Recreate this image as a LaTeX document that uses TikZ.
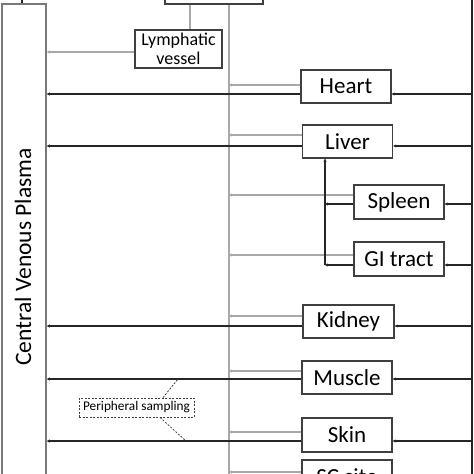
\documentclass[tikz,border=0pt]{standalone}
\usepackage{fontspec}
\setmainfont{Carlito}
\usetikzlibrary{arrows.meta,calc}
\definecolor{bord}{HTML}{3F3F3F}
\definecolor{lgray}{HTML}{A8A8A8}
\begin{document}
\begin{tikzpicture}[x=1pt,y=-1pt,
  organ/.style={draw=bord,line width=1.3pt,fill=white,minimum width=90pt,minimum height=33pt,inner sep=0pt,font=\fontsize{23}{26}\selectfont},
  blk/.style={draw=black!85,line width=1.2pt,-{Stealth[length=3pt,width=3pt]}},
  gry/.style={draw=lgray,line width=1.1pt,-{Stealth[length=3pt,width=3pt]}},
  gryl/.style={draw=lgray,line width=1.1pt},
  dsh/.style={draw=black!75,line width=0.8pt,dash pattern=on 2pt off 1.5pt}]
\useasboundingbox (0,0) rectangle (474,474);
\clip (0,0) rectangle (474,474);
% reference coordinates
\coordinate (gv) at (229,0);
\coordinate (rt) at (472,-5);
\coordinate (rb) at (472,480);
\coordinate (jb) at (325,265);
% boxes
\node[draw=bord,line width=1.3pt,minimum width=98pt,minimum height=34pt,inner sep=0pt] (topbox) at (214,-13) {};
\node[draw=bord!70,line width=1.5pt,minimum width=44pt,minimum height=496pt,inner sep=0pt] (cvp) at (24,252) {};
\node[rotate=90,font=\fontsize{23.5}{26}\selectfont] (cvpt) at (23,257) {Central Venous Plasma};
% gray verticals
\draw[gryl] (topbox.south -| gv) -- (gv |- 0,480);
\node[draw=bord,line width=1.3pt,fill=white,minimum width=87pt,minimum height=38pt,inner sep=0pt,align=center,font=\fontsize{18}{19}\selectfont] (lymph) at (178.5,49) {Lymphatic\\vessel};
\draw[gryl] (topbox.south -| 190,0) -- (lymph.north -| 190,0);
\draw[gry] (lymph.west |- 0,52) -- (cvp.east |- 0,52);
% right line
\draw[draw=black!85,line width=1.5pt] (rt) -- (rb);
\draw[draw=black!85,line width=1.2pt] (cvp.north -| 22,0) -- (22,-5);
% organs
\node[organ] (heart) at (346,86.5) {Heart};
\node[organ] (liver) at (347.5,141.5) {Liver};
\node[organ,minimum height=34pt] (spleen) at (399,202) {Spleen};
\node[organ,minimum height=34pt] (gi) at (399,259) {GI tract};
\node[organ,minimum width=91pt] (kidney) at (348.5,321.5) {Kidney};
\node[organ] (muscle) at (347,377.5) {Muscle};
\node[organ,minimum height=34pt] (skin) at (347,435) {Skin};
\node[organ,minimum height=34pt] (sc) at (347,477) {SC site};
% heart
\draw[blk] (rt |- 0,94) -- (heart.east |- 0,94);
\draw[blk] (heart.west |- 0,94) -- (cvp.east |- 0,94);
\draw[gry] (heart.west |- 0,85) -- (gv |- 0,85);
% liver
\draw[blk] (rt |- 0,146) -- (liver.east |- 0,146);
\draw[blk] (liver.west |- 0,146) -- (cvp.east |- 0,146);
\draw[gry] (liver.west |- 0,135) -- (gv |- 0,135);
% spleen
\draw[blk] (rt |- 0,204) -- (spleen.east |- 0,204);
\draw[blk] (spleen.west |- 0,204) -- (jb |- 0,204);
\draw[gry] (spleen.west |- 0,195) -- (gv |- 0,195);
% GI
\draw[blk] (rt |- 0,265) -- (gi.east |- 0,265);
\draw[blk] (gi.west |- 0,265) -- (jb);
\draw[gry] (gi.west |- 0,255) -- (gv |- 0,255);
\draw[blk] (jb) -- (jb |- liver.south);
% kidney
\draw[blk] (rt |- 0,326) -- (kidney.east |- 0,326);
\draw[blk] (kidney.west |- 0,326) -- (cvp.east |- 0,326);
\draw[gry] (kidney.west |- 0,316) -- (gv |- 0,316);
% muscle
\draw[blk] (rt |- 0,379) -- (muscle.east |- 0,379);
\draw[blk] (muscle.west |- 0,379) -- (cvp.east |- 0,379);
\draw[gry] (muscle.west |- 0,371) -- (gv |- 0,371);
% skin
\draw[blk] (rt |- 0,441) -- (skin.east |- 0,441);
\draw[blk] (skin.west |- 0,441) -- (cvp.east |- 0,441);
\draw[gry] (skin.west |- 0,432) -- (gv |- 0,432);
% sc site
\draw[gry] (sc.west |- 0,472) -- (gv |- 0,472);
% peripheral sampling
\node[dsh,minimum width=115pt,minimum height=19pt,inner sep=0pt,font=\fontsize{13.3}{15}\selectfont] (ps) at (136.5,407.5) {Peripheral sampling};
\coordinate (pm) at (178,379);
\coordinate (pk) at (186,441);
\draw[dsh] (ps.north -| 163,0) -- (pm);
\draw[dsh] (ps.south -| 160,0) -- (pk);
\end{tikzpicture}
\end{document}
